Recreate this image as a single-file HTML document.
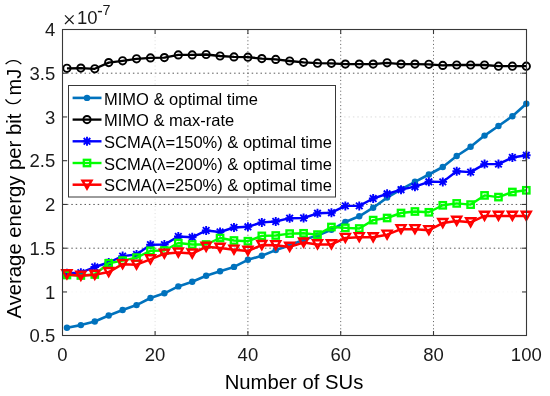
<!DOCTYPE html><html><head><meta charset="utf-8"><style>html,body{margin:0;padding:0;background:#fff;overflow:hidden;}svg{display:block;will-change:transform;font-family:"Liberation Sans",sans-serif;}</style></head><body>
<svg width="550" height="396" viewBox="0 0 550 396">
<rect width="550" height="396" fill="#fff"/>
<line x1="62.5" y1="73.20" x2="526.5" y2="73.20" stroke="#5a5a5a" stroke-width="1" stroke-dasharray="1.5 2.9"/>
<line x1="62.5" y1="116.95" x2="526.5" y2="116.95" stroke="#dcdcdc" stroke-width="1" stroke-dasharray="1.5 2.9"/>
<line x1="62.5" y1="160.70" x2="526.5" y2="160.70" stroke="#dcdcdc" stroke-width="1" stroke-dasharray="1.5 2.9"/>
<line x1="62.5" y1="204.45" x2="526.5" y2="204.45" stroke="#5a5a5a" stroke-width="1" stroke-dasharray="1.5 2.9"/>
<line x1="62.5" y1="248.20" x2="526.5" y2="248.20" stroke="#5a5a5a" stroke-width="1" stroke-dasharray="1.5 2.9"/>
<line x1="62.5" y1="291.95" x2="526.5" y2="291.95" stroke="#f7f7f7" stroke-width="1" stroke-dasharray="1.5 2.9"/>
<line x1="155.10" y1="29.5" x2="155.10" y2="335.5" stroke="#dcdcdc" stroke-width="1" stroke-dasharray="1 2.6"/>
<line x1="247.90" y1="29.5" x2="247.90" y2="335.5" stroke="#5a5a5a" stroke-width="1" stroke-dasharray="1 2.6"/>
<line x1="340.70" y1="29.5" x2="340.70" y2="335.5" stroke="#5a5a5a" stroke-width="1" stroke-dasharray="1 2.6"/>
<line x1="433.50" y1="29.5" x2="433.50" y2="335.5" stroke="#5a5a5a" stroke-width="1" stroke-dasharray="1 2.6"/>
<polyline points="66.94,327.80 80.86,325.10 94.78,321.50 108.70,315.50 122.62,310.00 136.54,305.10 150.46,298.00 164.38,293.30 178.30,286.40 192.22,281.80 206.14,275.80 220.06,271.30 233.98,266.90 247.90,259.80 261.82,255.80 275.74,250.10 289.66,245.50 303.58,239.80 317.50,235.50 331.42,229.80 345.34,222.00 359.26,216.30 373.18,207.70 387.10,197.60 401.02,189.30 414.94,181.80 428.86,174.50 442.78,167.00 456.70,156.00 470.62,146.80 484.54,135.60 498.46,126.00 512.38,116.20 526.30,103.80" fill="none" stroke="#0072BD" stroke-width="2.6" stroke-linejoin="round"/>
<circle cx="66.94" cy="327.80" r="3.2" fill="#0072BD"/><circle cx="80.86" cy="325.10" r="3.2" fill="#0072BD"/><circle cx="94.78" cy="321.50" r="3.2" fill="#0072BD"/><circle cx="108.70" cy="315.50" r="3.2" fill="#0072BD"/><circle cx="122.62" cy="310.00" r="3.2" fill="#0072BD"/><circle cx="136.54" cy="305.10" r="3.2" fill="#0072BD"/><circle cx="150.46" cy="298.00" r="3.2" fill="#0072BD"/><circle cx="164.38" cy="293.30" r="3.2" fill="#0072BD"/><circle cx="178.30" cy="286.40" r="3.2" fill="#0072BD"/><circle cx="192.22" cy="281.80" r="3.2" fill="#0072BD"/><circle cx="206.14" cy="275.80" r="3.2" fill="#0072BD"/><circle cx="220.06" cy="271.30" r="3.2" fill="#0072BD"/><circle cx="233.98" cy="266.90" r="3.2" fill="#0072BD"/><circle cx="247.90" cy="259.80" r="3.2" fill="#0072BD"/><circle cx="261.82" cy="255.80" r="3.2" fill="#0072BD"/><circle cx="275.74" cy="250.10" r="3.2" fill="#0072BD"/><circle cx="289.66" cy="245.50" r="3.2" fill="#0072BD"/><circle cx="303.58" cy="239.80" r="3.2" fill="#0072BD"/><circle cx="317.50" cy="235.50" r="3.2" fill="#0072BD"/><circle cx="331.42" cy="229.80" r="3.2" fill="#0072BD"/><circle cx="345.34" cy="222.00" r="3.2" fill="#0072BD"/><circle cx="359.26" cy="216.30" r="3.2" fill="#0072BD"/><circle cx="373.18" cy="207.70" r="3.2" fill="#0072BD"/><circle cx="387.10" cy="197.60" r="3.2" fill="#0072BD"/><circle cx="401.02" cy="189.30" r="3.2" fill="#0072BD"/><circle cx="414.94" cy="181.80" r="3.2" fill="#0072BD"/><circle cx="428.86" cy="174.50" r="3.2" fill="#0072BD"/><circle cx="442.78" cy="167.00" r="3.2" fill="#0072BD"/><circle cx="456.70" cy="156.00" r="3.2" fill="#0072BD"/><circle cx="470.62" cy="146.80" r="3.2" fill="#0072BD"/><circle cx="484.54" cy="135.60" r="3.2" fill="#0072BD"/><circle cx="498.46" cy="126.00" r="3.2" fill="#0072BD"/><circle cx="512.38" cy="116.20" r="3.2" fill="#0072BD"/><circle cx="526.30" cy="103.80" r="3.2" fill="#0072BD"/>
<polyline points="66.94,68.30 80.86,68.10 94.78,68.80 108.70,62.60 122.62,60.80 136.54,58.80 150.46,57.90 164.38,57.60 178.30,54.90 192.22,54.90 206.14,54.50 220.06,56.00 233.98,56.90 247.90,57.20 261.82,58.60 275.74,59.40 289.66,61.00 303.58,62.30 317.50,63.20 331.42,63.30 345.34,64.10 359.26,64.10 373.18,64.10 387.10,62.80 401.02,64.10 414.94,64.10 428.86,64.30 442.78,65.40 456.70,65.00 470.62,65.00 484.54,65.00 498.46,66.20 512.38,66.20 526.30,66.20" fill="none" stroke="#000000" stroke-width="2.3" stroke-linejoin="round"/>
<circle cx="66.94" cy="68.30" r="3.65" fill="none" stroke="#000000" stroke-width="1.9"/><circle cx="80.86" cy="68.10" r="3.65" fill="none" stroke="#000000" stroke-width="1.9"/><circle cx="94.78" cy="68.80" r="3.65" fill="none" stroke="#000000" stroke-width="1.9"/><circle cx="108.70" cy="62.60" r="3.65" fill="none" stroke="#000000" stroke-width="1.9"/><circle cx="122.62" cy="60.80" r="3.65" fill="none" stroke="#000000" stroke-width="1.9"/><circle cx="136.54" cy="58.80" r="3.65" fill="none" stroke="#000000" stroke-width="1.9"/><circle cx="150.46" cy="57.90" r="3.65" fill="none" stroke="#000000" stroke-width="1.9"/><circle cx="164.38" cy="57.60" r="3.65" fill="none" stroke="#000000" stroke-width="1.9"/><circle cx="178.30" cy="54.90" r="3.65" fill="none" stroke="#000000" stroke-width="1.9"/><circle cx="192.22" cy="54.90" r="3.65" fill="none" stroke="#000000" stroke-width="1.9"/><circle cx="206.14" cy="54.50" r="3.65" fill="none" stroke="#000000" stroke-width="1.9"/><circle cx="220.06" cy="56.00" r="3.65" fill="none" stroke="#000000" stroke-width="1.9"/><circle cx="233.98" cy="56.90" r="3.65" fill="none" stroke="#000000" stroke-width="1.9"/><circle cx="247.90" cy="57.20" r="3.65" fill="none" stroke="#000000" stroke-width="1.9"/><circle cx="261.82" cy="58.60" r="3.65" fill="none" stroke="#000000" stroke-width="1.9"/><circle cx="275.74" cy="59.40" r="3.65" fill="none" stroke="#000000" stroke-width="1.9"/><circle cx="289.66" cy="61.00" r="3.65" fill="none" stroke="#000000" stroke-width="1.9"/><circle cx="303.58" cy="62.30" r="3.65" fill="none" stroke="#000000" stroke-width="1.9"/><circle cx="317.50" cy="63.20" r="3.65" fill="none" stroke="#000000" stroke-width="1.9"/><circle cx="331.42" cy="63.30" r="3.65" fill="none" stroke="#000000" stroke-width="1.9"/><circle cx="345.34" cy="64.10" r="3.65" fill="none" stroke="#000000" stroke-width="1.9"/><circle cx="359.26" cy="64.10" r="3.65" fill="none" stroke="#000000" stroke-width="1.9"/><circle cx="373.18" cy="64.10" r="3.65" fill="none" stroke="#000000" stroke-width="1.9"/><circle cx="387.10" cy="62.80" r="3.65" fill="none" stroke="#000000" stroke-width="1.9"/><circle cx="401.02" cy="64.10" r="3.65" fill="none" stroke="#000000" stroke-width="1.9"/><circle cx="414.94" cy="64.10" r="3.65" fill="none" stroke="#000000" stroke-width="1.9"/><circle cx="428.86" cy="64.30" r="3.65" fill="none" stroke="#000000" stroke-width="1.9"/><circle cx="442.78" cy="65.40" r="3.65" fill="none" stroke="#000000" stroke-width="1.9"/><circle cx="456.70" cy="65.00" r="3.65" fill="none" stroke="#000000" stroke-width="1.9"/><circle cx="470.62" cy="65.00" r="3.65" fill="none" stroke="#000000" stroke-width="1.9"/><circle cx="484.54" cy="65.00" r="3.65" fill="none" stroke="#000000" stroke-width="1.9"/><circle cx="498.46" cy="66.20" r="3.65" fill="none" stroke="#000000" stroke-width="1.9"/><circle cx="512.38" cy="66.20" r="3.65" fill="none" stroke="#000000" stroke-width="1.9"/><circle cx="526.30" cy="66.20" r="3.65" fill="none" stroke="#000000" stroke-width="1.9"/>
<polyline points="66.94,273.30 80.86,272.70 94.78,267.00 108.70,262.50 122.62,256.10 136.54,254.50 150.46,244.70 164.38,244.60 178.30,236.50 192.22,237.30 206.14,230.50 220.06,232.00 233.98,227.50 247.90,226.80 261.82,222.40 275.74,221.50 289.66,218.20 303.58,218.00 317.50,213.30 331.42,212.70 345.34,205.90 359.26,205.90 373.18,198.50 387.10,193.80 401.02,189.70 414.94,186.70 428.86,181.80 442.78,181.90 456.70,171.20 470.62,172.10 484.54,164.10 498.46,164.10 512.38,157.50 526.30,155.30" fill="none" stroke="#0000FF" stroke-width="2.4" stroke-linejoin="round"/>
<path d="M66.94 268.80V277.80M62.64 273.30H71.24M63.64 270.00L70.24 276.60M63.64 276.60L70.24 270.00" stroke="#0000FF" stroke-width="1.9" fill="none"/><path d="M80.86 268.20V277.20M76.56 272.70H85.16M77.56 269.40L84.16 276.00M77.56 276.00L84.16 269.40" stroke="#0000FF" stroke-width="1.9" fill="none"/><path d="M94.78 262.50V271.50M90.48 267.00H99.08M91.48 263.70L98.08 270.30M91.48 270.30L98.08 263.70" stroke="#0000FF" stroke-width="1.9" fill="none"/><path d="M108.70 258.00V267.00M104.40 262.50H113.00M105.40 259.20L112.00 265.80M105.40 265.80L112.00 259.20" stroke="#0000FF" stroke-width="1.9" fill="none"/><path d="M122.62 251.60V260.60M118.32 256.10H126.92M119.32 252.80L125.92 259.40M119.32 259.40L125.92 252.80" stroke="#0000FF" stroke-width="1.9" fill="none"/><path d="M136.54 250.00V259.00M132.24 254.50H140.84M133.24 251.20L139.84 257.80M133.24 257.80L139.84 251.20" stroke="#0000FF" stroke-width="1.9" fill="none"/><path d="M150.46 240.20V249.20M146.16 244.70H154.76M147.16 241.40L153.76 248.00M147.16 248.00L153.76 241.40" stroke="#0000FF" stroke-width="1.9" fill="none"/><path d="M164.38 240.10V249.10M160.08 244.60H168.68M161.08 241.30L167.68 247.90M161.08 247.90L167.68 241.30" stroke="#0000FF" stroke-width="1.9" fill="none"/><path d="M178.30 232.00V241.00M174.00 236.50H182.60M175.00 233.20L181.60 239.80M175.00 239.80L181.60 233.20" stroke="#0000FF" stroke-width="1.9" fill="none"/><path d="M192.22 232.80V241.80M187.92 237.30H196.52M188.92 234.00L195.52 240.60M188.92 240.60L195.52 234.00" stroke="#0000FF" stroke-width="1.9" fill="none"/><path d="M206.14 226.00V235.00M201.84 230.50H210.44M202.84 227.20L209.44 233.80M202.84 233.80L209.44 227.20" stroke="#0000FF" stroke-width="1.9" fill="none"/><path d="M220.06 227.50V236.50M215.76 232.00H224.36M216.76 228.70L223.36 235.30M216.76 235.30L223.36 228.70" stroke="#0000FF" stroke-width="1.9" fill="none"/><path d="M233.98 223.00V232.00M229.68 227.50H238.28M230.68 224.20L237.28 230.80M230.68 230.80L237.28 224.20" stroke="#0000FF" stroke-width="1.9" fill="none"/><path d="M247.90 222.30V231.30M243.60 226.80H252.20M244.60 223.50L251.20 230.10M244.60 230.10L251.20 223.50" stroke="#0000FF" stroke-width="1.9" fill="none"/><path d="M261.82 217.90V226.90M257.52 222.40H266.12M258.52 219.10L265.12 225.70M258.52 225.70L265.12 219.10" stroke="#0000FF" stroke-width="1.9" fill="none"/><path d="M275.74 217.00V226.00M271.44 221.50H280.04M272.44 218.20L279.04 224.80M272.44 224.80L279.04 218.20" stroke="#0000FF" stroke-width="1.9" fill="none"/><path d="M289.66 213.70V222.70M285.36 218.20H293.96M286.36 214.90L292.96 221.50M286.36 221.50L292.96 214.90" stroke="#0000FF" stroke-width="1.9" fill="none"/><path d="M303.58 213.50V222.50M299.28 218.00H307.88M300.28 214.70L306.88 221.30M300.28 221.30L306.88 214.70" stroke="#0000FF" stroke-width="1.9" fill="none"/><path d="M317.50 208.80V217.80M313.20 213.30H321.80M314.20 210.00L320.80 216.60M314.20 216.60L320.80 210.00" stroke="#0000FF" stroke-width="1.9" fill="none"/><path d="M331.42 208.20V217.20M327.12 212.70H335.72M328.12 209.40L334.72 216.00M328.12 216.00L334.72 209.40" stroke="#0000FF" stroke-width="1.9" fill="none"/><path d="M345.34 201.40V210.40M341.04 205.90H349.64M342.04 202.60L348.64 209.20M342.04 209.20L348.64 202.60" stroke="#0000FF" stroke-width="1.9" fill="none"/><path d="M359.26 201.40V210.40M354.96 205.90H363.56M355.96 202.60L362.56 209.20M355.96 209.20L362.56 202.60" stroke="#0000FF" stroke-width="1.9" fill="none"/><path d="M373.18 194.00V203.00M368.88 198.50H377.48M369.88 195.20L376.48 201.80M369.88 201.80L376.48 195.20" stroke="#0000FF" stroke-width="1.9" fill="none"/><path d="M387.10 189.30V198.30M382.80 193.80H391.40M383.80 190.50L390.40 197.10M383.80 197.10L390.40 190.50" stroke="#0000FF" stroke-width="1.9" fill="none"/><path d="M401.02 185.20V194.20M396.72 189.70H405.32M397.72 186.40L404.32 193.00M397.72 193.00L404.32 186.40" stroke="#0000FF" stroke-width="1.9" fill="none"/><path d="M414.94 182.20V191.20M410.64 186.70H419.24M411.64 183.40L418.24 190.00M411.64 190.00L418.24 183.40" stroke="#0000FF" stroke-width="1.9" fill="none"/><path d="M428.86 177.30V186.30M424.56 181.80H433.16M425.56 178.50L432.16 185.10M425.56 185.10L432.16 178.50" stroke="#0000FF" stroke-width="1.9" fill="none"/><path d="M442.78 177.40V186.40M438.48 181.90H447.08M439.48 178.60L446.08 185.20M439.48 185.20L446.08 178.60" stroke="#0000FF" stroke-width="1.9" fill="none"/><path d="M456.70 166.70V175.70M452.40 171.20H461.00M453.40 167.90L460.00 174.50M453.40 174.50L460.00 167.90" stroke="#0000FF" stroke-width="1.9" fill="none"/><path d="M470.62 167.60V176.60M466.32 172.10H474.92M467.32 168.80L473.92 175.40M467.32 175.40L473.92 168.80" stroke="#0000FF" stroke-width="1.9" fill="none"/><path d="M484.54 159.60V168.60M480.24 164.10H488.84M481.24 160.80L487.84 167.40M481.24 167.40L487.84 160.80" stroke="#0000FF" stroke-width="1.9" fill="none"/><path d="M498.46 159.60V168.60M494.16 164.10H502.76M495.16 160.80L501.76 167.40M495.16 167.40L501.76 160.80" stroke="#0000FF" stroke-width="1.9" fill="none"/><path d="M512.38 153.00V162.00M508.08 157.50H516.68M509.08 154.20L515.68 160.80M509.08 160.80L515.68 154.20" stroke="#0000FF" stroke-width="1.9" fill="none"/><path d="M526.30 150.80V159.80M522.00 155.30H530.60M523.00 152.00L529.60 158.60M523.00 158.60L529.60 152.00" stroke="#0000FF" stroke-width="1.9" fill="none"/>
<polyline points="66.94,275.00 80.86,275.50 94.78,274.50 108.70,263.30 122.62,260.60 136.54,257.60 150.46,250.80 164.38,250.50 178.30,243.00 192.22,244.50 206.14,244.50 220.06,238.00 233.98,240.50 247.90,241.20 261.82,235.90 275.74,235.50 289.66,233.60 303.58,233.30 317.50,234.60 331.42,227.00 345.34,227.90 359.26,228.50 373.18,220.10 387.10,218.00 401.02,213.00 414.94,211.50 428.86,212.30 442.78,205.30 456.70,203.40 470.62,204.60 484.54,195.40 498.46,197.10 512.38,192.00 526.30,190.30" fill="none" stroke="#00FF00" stroke-width="2.4" stroke-linejoin="round"/>
<rect x="63.74" y="271.80" width="6.4" height="6.4" fill="none" stroke="#00FF00" stroke-width="2.3"/><rect x="77.66" y="272.30" width="6.4" height="6.4" fill="none" stroke="#00FF00" stroke-width="2.3"/><rect x="91.58" y="271.30" width="6.4" height="6.4" fill="none" stroke="#00FF00" stroke-width="2.3"/><rect x="105.50" y="260.10" width="6.4" height="6.4" fill="none" stroke="#00FF00" stroke-width="2.3"/><rect x="119.42" y="257.40" width="6.4" height="6.4" fill="none" stroke="#00FF00" stroke-width="2.3"/><rect x="133.34" y="254.40" width="6.4" height="6.4" fill="none" stroke="#00FF00" stroke-width="2.3"/><rect x="147.26" y="247.60" width="6.4" height="6.4" fill="none" stroke="#00FF00" stroke-width="2.3"/><rect x="161.18" y="247.30" width="6.4" height="6.4" fill="none" stroke="#00FF00" stroke-width="2.3"/><rect x="175.10" y="239.80" width="6.4" height="6.4" fill="none" stroke="#00FF00" stroke-width="2.3"/><rect x="189.02" y="241.30" width="6.4" height="6.4" fill="none" stroke="#00FF00" stroke-width="2.3"/><rect x="202.94" y="241.30" width="6.4" height="6.4" fill="none" stroke="#00FF00" stroke-width="2.3"/><rect x="216.86" y="234.80" width="6.4" height="6.4" fill="none" stroke="#00FF00" stroke-width="2.3"/><rect x="230.78" y="237.30" width="6.4" height="6.4" fill="none" stroke="#00FF00" stroke-width="2.3"/><rect x="244.70" y="238.00" width="6.4" height="6.4" fill="none" stroke="#00FF00" stroke-width="2.3"/><rect x="258.62" y="232.70" width="6.4" height="6.4" fill="none" stroke="#00FF00" stroke-width="2.3"/><rect x="272.54" y="232.30" width="6.4" height="6.4" fill="none" stroke="#00FF00" stroke-width="2.3"/><rect x="286.46" y="230.40" width="6.4" height="6.4" fill="none" stroke="#00FF00" stroke-width="2.3"/><rect x="300.38" y="230.10" width="6.4" height="6.4" fill="none" stroke="#00FF00" stroke-width="2.3"/><rect x="314.30" y="231.40" width="6.4" height="6.4" fill="none" stroke="#00FF00" stroke-width="2.3"/><rect x="328.22" y="223.80" width="6.4" height="6.4" fill="none" stroke="#00FF00" stroke-width="2.3"/><rect x="342.14" y="224.70" width="6.4" height="6.4" fill="none" stroke="#00FF00" stroke-width="2.3"/><rect x="356.06" y="225.30" width="6.4" height="6.4" fill="none" stroke="#00FF00" stroke-width="2.3"/><rect x="369.98" y="216.90" width="6.4" height="6.4" fill="none" stroke="#00FF00" stroke-width="2.3"/><rect x="383.90" y="214.80" width="6.4" height="6.4" fill="none" stroke="#00FF00" stroke-width="2.3"/><rect x="397.82" y="209.80" width="6.4" height="6.4" fill="none" stroke="#00FF00" stroke-width="2.3"/><rect x="411.74" y="208.30" width="6.4" height="6.4" fill="none" stroke="#00FF00" stroke-width="2.3"/><rect x="425.66" y="209.10" width="6.4" height="6.4" fill="none" stroke="#00FF00" stroke-width="2.3"/><rect x="439.58" y="202.10" width="6.4" height="6.4" fill="none" stroke="#00FF00" stroke-width="2.3"/><rect x="453.50" y="200.20" width="6.4" height="6.4" fill="none" stroke="#00FF00" stroke-width="2.3"/><rect x="467.42" y="201.40" width="6.4" height="6.4" fill="none" stroke="#00FF00" stroke-width="2.3"/><rect x="481.34" y="192.20" width="6.4" height="6.4" fill="none" stroke="#00FF00" stroke-width="2.3"/><rect x="495.26" y="193.90" width="6.4" height="6.4" fill="none" stroke="#00FF00" stroke-width="2.3"/><rect x="509.18" y="188.80" width="6.4" height="6.4" fill="none" stroke="#00FF00" stroke-width="2.3"/><rect x="523.10" y="187.10" width="6.4" height="6.4" fill="none" stroke="#00FF00" stroke-width="2.3"/>
<polyline points="66.94,274.40 80.86,275.80 94.78,274.80 108.70,272.10 122.62,264.20 136.54,264.70 150.46,259.40 164.38,253.70 178.30,252.60 192.22,253.60 206.14,246.80 220.06,247.90 233.98,249.70 247.90,250.90 261.82,245.10 275.74,245.20 289.66,246.90 303.58,242.60 317.50,244.40 331.42,244.40 345.34,238.00 359.26,237.20 373.18,237.30 387.10,234.70 401.02,229.20 414.94,229.20 428.86,230.20 442.78,223.10 456.70,220.90 470.62,222.30 484.54,215.90 498.46,215.90 512.38,215.90 526.30,215.90" fill="none" stroke="#FF0000" stroke-width="2.5" stroke-linejoin="round"/>
<path d="M62.44 270.30H71.44L66.94 278.30Z" fill="none" stroke="#FF0000" stroke-width="2.4"/><path d="M76.36 271.70H85.36L80.86 279.70Z" fill="none" stroke="#FF0000" stroke-width="2.4"/><path d="M90.28 270.70H99.28L94.78 278.70Z" fill="none" stroke="#FF0000" stroke-width="2.4"/><path d="M104.20 268.00H113.20L108.70 276.00Z" fill="none" stroke="#FF0000" stroke-width="2.4"/><path d="M118.12 260.10H127.12L122.62 268.10Z" fill="none" stroke="#FF0000" stroke-width="2.4"/><path d="M132.04 260.60H141.04L136.54 268.60Z" fill="none" stroke="#FF0000" stroke-width="2.4"/><path d="M145.96 255.30H154.96L150.46 263.30Z" fill="none" stroke="#FF0000" stroke-width="2.4"/><path d="M159.88 249.60H168.88L164.38 257.60Z" fill="none" stroke="#FF0000" stroke-width="2.4"/><path d="M173.80 248.50H182.80L178.30 256.50Z" fill="none" stroke="#FF0000" stroke-width="2.4"/><path d="M187.72 249.50H196.72L192.22 257.50Z" fill="none" stroke="#FF0000" stroke-width="2.4"/><path d="M201.64 242.70H210.64L206.14 250.70Z" fill="none" stroke="#FF0000" stroke-width="2.4"/><path d="M215.56 243.80H224.56L220.06 251.80Z" fill="none" stroke="#FF0000" stroke-width="2.4"/><path d="M229.48 245.60H238.48L233.98 253.60Z" fill="none" stroke="#FF0000" stroke-width="2.4"/><path d="M243.40 246.80H252.40L247.90 254.80Z" fill="none" stroke="#FF0000" stroke-width="2.4"/><path d="M257.32 241.00H266.32L261.82 249.00Z" fill="none" stroke="#FF0000" stroke-width="2.4"/><path d="M271.24 241.10H280.24L275.74 249.10Z" fill="none" stroke="#FF0000" stroke-width="2.4"/><path d="M285.16 242.80H294.16L289.66 250.80Z" fill="none" stroke="#FF0000" stroke-width="2.4"/><path d="M299.08 238.50H308.08L303.58 246.50Z" fill="none" stroke="#FF0000" stroke-width="2.4"/><path d="M313.00 240.30H322.00L317.50 248.30Z" fill="none" stroke="#FF0000" stroke-width="2.4"/><path d="M326.92 240.30H335.92L331.42 248.30Z" fill="none" stroke="#FF0000" stroke-width="2.4"/><path d="M340.84 233.90H349.84L345.34 241.90Z" fill="none" stroke="#FF0000" stroke-width="2.4"/><path d="M354.76 233.10H363.76L359.26 241.10Z" fill="none" stroke="#FF0000" stroke-width="2.4"/><path d="M368.68 233.20H377.68L373.18 241.20Z" fill="none" stroke="#FF0000" stroke-width="2.4"/><path d="M382.60 230.60H391.60L387.10 238.60Z" fill="none" stroke="#FF0000" stroke-width="2.4"/><path d="M396.52 225.10H405.52L401.02 233.10Z" fill="none" stroke="#FF0000" stroke-width="2.4"/><path d="M410.44 225.10H419.44L414.94 233.10Z" fill="none" stroke="#FF0000" stroke-width="2.4"/><path d="M424.36 226.10H433.36L428.86 234.10Z" fill="none" stroke="#FF0000" stroke-width="2.4"/><path d="M438.28 219.00H447.28L442.78 227.00Z" fill="none" stroke="#FF0000" stroke-width="2.4"/><path d="M452.20 216.80H461.20L456.70 224.80Z" fill="none" stroke="#FF0000" stroke-width="2.4"/><path d="M466.12 218.20H475.12L470.62 226.20Z" fill="none" stroke="#FF0000" stroke-width="2.4"/><path d="M480.04 211.80H489.04L484.54 219.80Z" fill="none" stroke="#FF0000" stroke-width="2.4"/><path d="M493.96 211.80H502.96L498.46 219.80Z" fill="none" stroke="#FF0000" stroke-width="2.4"/><path d="M507.88 211.80H516.88L512.38 219.80Z" fill="none" stroke="#FF0000" stroke-width="2.4"/><path d="M521.80 211.80H530.80L526.30 219.80Z" fill="none" stroke="#FF0000" stroke-width="2.4"/>
<rect x="62.5" y="29.5" width="464" height="306" fill="none" stroke="#383838" stroke-width="1.1"/>
<line x1="155.10" y1="335.5" x2="155.10" y2="331" stroke="#383838" stroke-width="1.1"/>
<line x1="155.10" y1="29.5" x2="155.10" y2="34" stroke="#383838" stroke-width="1.1"/>
<line x1="247.90" y1="335.5" x2="247.90" y2="331" stroke="#383838" stroke-width="1.1"/>
<line x1="247.90" y1="29.5" x2="247.90" y2="34" stroke="#383838" stroke-width="1.1"/>
<line x1="340.70" y1="335.5" x2="340.70" y2="331" stroke="#383838" stroke-width="1.1"/>
<line x1="340.70" y1="29.5" x2="340.70" y2="34" stroke="#383838" stroke-width="1.1"/>
<line x1="433.50" y1="335.5" x2="433.50" y2="331" stroke="#383838" stroke-width="1.1"/>
<line x1="433.50" y1="29.5" x2="433.50" y2="34" stroke="#383838" stroke-width="1.1"/>
<line x1="62.5" y1="291.95" x2="67" y2="291.95" stroke="#383838" stroke-width="1.1"/>
<line x1="526.5" y1="291.95" x2="522" y2="291.95" stroke="#383838" stroke-width="1.1"/>
<line x1="62.5" y1="248.20" x2="67" y2="248.20" stroke="#383838" stroke-width="1.1"/>
<line x1="526.5" y1="248.20" x2="522" y2="248.20" stroke="#383838" stroke-width="1.1"/>
<line x1="62.5" y1="204.45" x2="67" y2="204.45" stroke="#383838" stroke-width="1.1"/>
<line x1="526.5" y1="204.45" x2="522" y2="204.45" stroke="#383838" stroke-width="1.1"/>
<line x1="62.5" y1="160.70" x2="67" y2="160.70" stroke="#383838" stroke-width="1.1"/>
<line x1="526.5" y1="160.70" x2="522" y2="160.70" stroke="#383838" stroke-width="1.1"/>
<line x1="62.5" y1="116.95" x2="67" y2="116.95" stroke="#383838" stroke-width="1.1"/>
<line x1="526.5" y1="116.95" x2="522" y2="116.95" stroke="#383838" stroke-width="1.1"/>
<line x1="62.5" y1="73.20" x2="67" y2="73.20" stroke="#383838" stroke-width="1.1"/>
<line x1="526.5" y1="73.20" x2="522" y2="73.20" stroke="#383838" stroke-width="1.1"/>
<text x="62.30" y="361" font-size="18.5" text-anchor="middle" fill="#1a1a1a">0</text>
<text x="155.10" y="361" font-size="18.5" text-anchor="middle" fill="#1a1a1a">20</text>
<text x="247.90" y="361" font-size="18.5" text-anchor="middle" fill="#1a1a1a">40</text>
<text x="340.70" y="361" font-size="18.5" text-anchor="middle" fill="#1a1a1a">60</text>
<text x="433.50" y="361" font-size="18.5" text-anchor="middle" fill="#1a1a1a">80</text>
<text x="526.30" y="361" font-size="18.5" text-anchor="middle" fill="#1a1a1a">100</text>
<text x="55.2" y="342.30" font-size="18.5" text-anchor="end" fill="#1a1a1a">0.5</text>
<text x="55.2" y="298.55" font-size="18.5" text-anchor="end" fill="#1a1a1a">1</text>
<text x="55.2" y="254.80" font-size="18.5" text-anchor="end" fill="#1a1a1a">1.5</text>
<text x="55.2" y="211.05" font-size="18.5" text-anchor="end" fill="#1a1a1a">2</text>
<text x="55.2" y="167.30" font-size="18.5" text-anchor="end" fill="#1a1a1a">2.5</text>
<text x="55.2" y="123.55" font-size="18.5" text-anchor="end" fill="#1a1a1a">3</text>
<text x="55.2" y="79.80" font-size="18.5" text-anchor="end" fill="#1a1a1a">3.5</text>
<text x="55.2" y="36.05" font-size="18.5" text-anchor="end" fill="#1a1a1a">4</text>
<path d="M65 15.4L73.6 24M73.6 15.4L65 24" stroke="#1a1a1a" stroke-width="1.25"/>
<text x="77" y="23.9" font-size="18.5" fill="#1a1a1a">10</text>
<rect x="97.9" y="10.9" width="4.1" height="1.4" fill="#1a1a1a"/>
<text x="102.6" y="15.4" font-size="14.3" fill="#1a1a1a">7</text>
<text x="294" y="388.5" font-size="20.3" text-anchor="middle" fill="#000">Number of SUs</text>
<g transform="translate(21,318.5) rotate(-90)">
<text x="0" y="0" font-size="20.3" fill="#000">Average energy per bit</text>
</g>
<g transform="translate(21,0) rotate(-90)">
<text x="-95.5" y="0" font-size="20" fill="#000">mJ</text>
</g>
<path d="M20.8 99.4 A9 9 0 0 1 5.5 99.4" fill="none" stroke="#000" stroke-width="1.25"/>
<path d="M21.3 64.2 A10.2 10.2 0 0 0 5.6 64.2" fill="none" stroke="#000" stroke-width="1.25"/>
<rect x="68.5" y="85.5" width="267" height="111.5" fill="#fff" stroke="#383838" stroke-width="1"/>
<line x1="72.6" y1="97.90" x2="101.5" y2="97.90" stroke="#0072BD" stroke-width="2.6"/>
<circle cx="87.00" cy="97.90" r="3.2" fill="#0072BD"/>
<text x="104" y="104.50" font-size="16.5" fill="#000">MIMO &amp; optimal time</text>
<line x1="72.6" y1="119.60" x2="101.5" y2="119.60" stroke="#000000" stroke-width="2.3"/>
<circle cx="87.00" cy="119.60" r="3.65" fill="none" stroke="#000000" stroke-width="1.9"/>
<text x="104" y="126.20" font-size="16.5" fill="#000">MIMO &amp; max-rate</text>
<line x1="72.6" y1="141.30" x2="101.5" y2="141.30" stroke="#0000FF" stroke-width="2.4"/>
<path d="M87.00 136.80V145.80M82.70 141.30H91.30M83.70 138.00L90.30 144.60M83.70 144.60L90.30 138.00" stroke="#0000FF" stroke-width="1.9" fill="none"/>
<text x="104" y="147.90" font-size="16.5" fill="#000">SCMA(λ=150%) &amp; optimal time</text>
<line x1="72.6" y1="163.00" x2="101.5" y2="163.00" stroke="#00FF00" stroke-width="2.4"/>
<rect x="83.80" y="159.80" width="6.4" height="6.4" fill="none" stroke="#00FF00" stroke-width="2.3"/>
<text x="104" y="169.60" font-size="16.5" fill="#000">SCMA(λ=200%) &amp; optimal time</text>
<line x1="72.6" y1="184.70" x2="101.5" y2="184.70" stroke="#FF0000" stroke-width="2.5"/>
<path d="M82.50 180.60H91.50L87.00 188.60Z" fill="none" stroke="#FF0000" stroke-width="2.4"/>
<text x="104" y="191.30" font-size="16.5" fill="#000">SCMA(λ=250%) &amp; optimal time</text>
</svg></body></html>
